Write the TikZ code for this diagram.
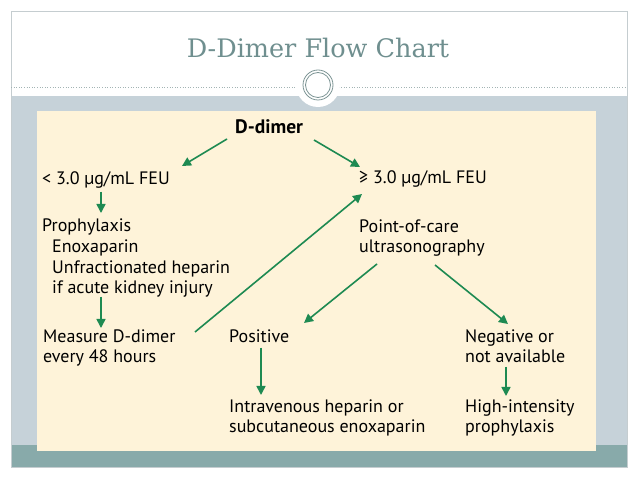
\documentclass[tikz,border=0pt]{standalone}
\usepackage{fontspec}
\setmainfont{PT Sans}
\newfontfamily\titlefont{DejaVu Serif}
\usetikzlibrary{arrows.meta,calc}
\definecolor{arrowgreen}{HTML}{1E8A52}
\definecolor{titlegrey}{HTML}{6F8F8F}
\definecolor{bandblue}{HTML}{C6D2D9}
\definecolor{bandteal}{HTML}{88AAAA}
\definecolor{panelyellow}{HTML}{FEF3D9}
\definecolor{framegrey}{HTML}{C5CDD0}
\definecolor{ringgrey}{HTML}{7C9494}
\tikzset{
  txt/.style={anchor=base west, inner sep=0pt, font=\fontsize{18}{20.7}\selectfont, align=left},
  arr/.style={-{Triangle[length=9pt,width=9pt]}, draw=arrowgreen, fill=arrowgreen, line width=1.6pt}
}
\begin{document}
\begin{tikzpicture}[x=1pt,y=-1pt]
      % slide background
      \useasboundingbox (0,0) rectangle (638,478);
      \fill[white] (0,0) rectangle (638,478);
      \fill[bandblue] (11,96) rectangle (627,445);
      \fill[bandteal] (11,445) rectangle (627,467);
      \draw[framegrey, line width=0.8pt] (11,11) rectangle (627,467);
      \draw[ringgrey!70, dotted, line width=0.6pt] (11,87) -- (627,87);
      \fill[panelyellow] (37,111) rectangle (596,451);
      \fill[white] (318,85) circle (22);
      \draw[ringgrey, line width=0.8pt] (318,85) circle (15);
      \draw[ringgrey, line width=0.8pt] (318,85) circle (12.5);
      \node[anchor=base, inner sep=0pt, text=titlegrey, font=\titlefont\fontsize{25.5}{30}\selectfont] (title) at (318,58) {D-Dimer Flow Chart};
      % chart (multi-line nodes sit on their last line)
      \node[txt, font=\fontsize{19.5}{20.7}\selectfont\bfseries] (dimer) at (235,134) {D-dimer};
      \node[txt] (low) at (42,185) {< 3.0 µg/mL FEU};
      \node[txt] (high) at (359,184) {≥ 3.0 µg/mL FEU};
      \node[txt] (proph) at (42,294) {Prophylaxis\\\hspace*{10pt}Enoxaparin\\\hspace*{10pt}Unfractionated heparin\\\hspace*{10pt}if acute kidney injury};
      \node[txt] (measure) at (43,363) {Measure D-dimer\\every 48 hours};
      \node[txt] (poc) at (359,253) {Point-of-care\\ultrasonography};
      \node[txt] (pos) at (229,343) {Positive};
      \node[txt] (neg) at (465,363) {Negative or\\not available};
      \node[txt] (ivh) at (229,433) {Intravenous heparin or\\subcutaneous enoxaparin};
      \node[txt] (hi) at (465,433) {High-intensity\\prophylaxis};
      \draw[arr] ($(dimer.base west)+(-8,5)$) -- ($(low.base west)+(140,-19)$);
      \draw[arr] ($(dimer.base west)+(79,6)$) -- ($(high.base west)+(1,-17)$);
      \draw[arr] ($(low.base west)+(59,7)$) -- ($(proph.base west)+(59,-81)$);
      \draw[arr] ($(proph.base west)+(59,3)$) -- ($(measure.base west)+(58,-35)$);
      \draw[arr] ($(measure.base west)+(152,-31)$) -- ($(high.base west)+(3,10)$);
      \draw[arr] ($(poc.base west)+(18,11)$) -- ($(pos.base west)+(75,-20)$);
      \draw[arr] ($(poc.base west)+(76,12)$) -- ($(neg.base west)+(43,-39)$);
      \draw[arr] ($(pos.base west)+(32,5)$) -- ($(ivh.base west)+(32,-38)$);
      \draw[arr] ($(neg.base west)+(41,4)$) -- ($(hi.base west)+(41,-37)$);
    \end{tikzpicture}
\end{document}
